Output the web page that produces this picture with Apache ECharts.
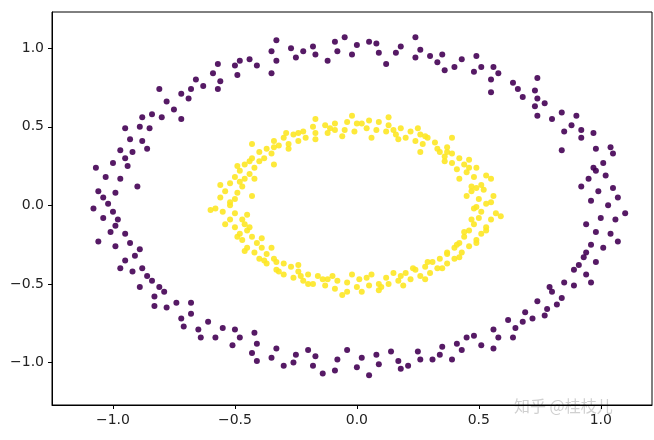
<!DOCTYPE html>
<html><head><meta charset="utf-8">
<script src="https://cdn.jsdelivr.net/npm/echarts@6/dist/echarts.min.js"></script>
<style>html,body{margin:0;background:#fff}#c{width:654px;height:440px}</style>
</head><body><div id="c"></div>
<script>
const outerRing = [
[1.03,0.00],[0.96,0.03],[0.99,0.09],[1.05,0.11],[0.95,0.17],[1.02,0.19],[1.01,0.27],[0.97,0.24],[0.98,0.36],[1.04,0.37],[0.92,0.43],[0.97,0.46],[0.88,0.51],[0.85,0.47],[0.84,0.59],[0.80,0.55],[0.77,0.65],[0.73,0.63],[0.73,0.73],[0.68,0.69],[0.64,0.78],[0.66,0.74],[0.58,0.84],[0.55,0.80],[0.51,0.88],[0.48,0.85],[0.43,0.93],[0.40,0.88],[0.35,0.96],[0.33,0.91],[0.26,0.99],[0.24,0.94],[0.18,1.01],[0.16,0.97],[0.09,0.97],[0.08,1.03],
[0.00,1.02],[-0.02,0.96],[-0.09,1.04],[-0.08,0.98],[-0.17,0.96],[-0.18,1.01],[-0.27,1.00],[-0.25,0.94],[-0.33,0.92],[-0.35,0.98],[-0.44,0.93],[-0.41,0.89],[-0.50,0.89],[-0.49,0.83],[-0.59,0.84],[-0.56,0.79],[-0.63,0.76],[-0.66,0.80],[-0.72,0.71],[-0.69,0.68],[-0.78,0.66],[-0.75,0.61],[-0.84,0.58],[-0.80,0.56],[-0.89,0.50],[-0.85,0.49],[-0.93,0.42],[-0.88,0.41],[-0.97,0.35],[-0.92,0.34],[-1.00,0.27],[-0.94,0.25],[-1.03,0.18],[-0.97,0.17],[-1.06,0.09],[-0.99,0.08],
[-1.02,0.01],[-1.08,-0.02],[-0.98,-0.09],[-1.04,-0.08],[-1.01,-0.17],[-0.95,-0.18],[-0.99,-0.26],[-0.93,-0.24],[-0.95,-0.35],[-0.91,-0.32],[-0.92,-0.42],[-0.88,-0.40],[-0.89,-0.52],[-0.84,-0.48],[-0.83,-0.58],[-0.79,-0.55],[-0.78,-0.65],[-0.74,-0.62],[-0.72,-0.72],[-0.68,-0.69],[-0.65,-0.79],[-0.61,-0.74],[-0.58,-0.84],[-0.55,-0.78],[-0.51,-0.89],[-0.48,-0.84],[-0.43,-0.94],[-0.41,-0.88],[-0.35,-0.97],[-0.33,-0.91],[-0.26,-1.00],[-0.25,-0.95],[-0.18,-1.02],[-0.17,-0.96],[-0.09,-1.05],[-0.08,-0.98],
[0.00,-1.03],[0.02,-0.97],[0.09,-1.01],[0.08,-0.95],[0.17,-0.99],[0.18,-1.04],[0.26,-0.98],[0.25,-0.93],[0.34,-0.95],[0.35,-0.90],[0.43,-0.92],[0.41,-0.88],[0.51,-0.89],[0.48,-0.83],[0.58,-0.84],[0.56,-0.79],[0.65,-0.78],[0.62,-0.73],[0.72,-0.72],[0.69,-0.68],[0.78,-0.66],[0.74,-0.61],[0.84,-0.59],[0.80,-0.55],[0.89,-0.51],[0.85,-0.49],[0.94,-0.44],[0.89,-0.41],[0.98,-0.36],[0.93,-0.33],[1.01,-0.27],[0.96,-0.25],[1.04,-0.18],[0.98,-0.17],[1.06,-0.09],[1.00,-0.08],
[1.07,0.05],[0.92,0.12],[0.98,0.22],[1.05,0.33],[0.84,0.35],[0.92,0.48],[0.90,0.57],[0.74,0.57],[0.74,0.68],[0.74,0.81],[0.55,0.72],[0.56,0.88],[0.49,0.95],[0.36,0.86],[0.30,0.95],[0.24,1.07],[0.12,0.90],[0.05,1.04],
[-0.05,1.07],[-0.12,0.92],[-0.22,0.98],[-0.33,1.05],[-0.35,0.84],[-0.48,0.92],[-0.57,0.90],[-0.57,0.74],[-0.68,0.74],[-0.81,0.74],[-0.72,0.55],[-0.88,0.56],[-0.95,0.49],[-0.86,0.36],[-0.95,0.30],[-1.07,0.24],[-0.90,0.12],[-1.04,0.05],
[-1.00,-0.04],[-0.99,-0.13],[-1.06,-0.23],[-0.89,-0.28],[-0.97,-0.40],[-0.86,-0.45],[-0.81,-0.52],[-0.83,-0.64],[-0.68,-0.62],[-0.71,-0.77],[-0.64,-0.84],[-0.50,-0.79],[-0.42,-0.81],[-0.41,-0.99],[-0.30,-1.02],[-0.20,-0.92],[-0.14,-1.07],[-0.04,-0.92],
[0.05,-1.08],[0.14,-0.93],[0.21,-1.02],[0.31,-0.98],[0.39,-0.98],[0.45,-0.84],[0.56,-0.91],[0.64,-0.84],[0.68,-0.74],[0.77,-0.70],[0.82,-0.63],[0.79,-0.52],[0.96,-0.49],[0.91,-0.38],[0.94,-0.30],[1.07,-0.23],[0.94,-0.12],[1.10,-0.05]
];
const innerRing = [
[0.53,0.01],[0.48,-0.02],[0.50,0.04],[0.56,0.06],[0.47,0.09],[0.52,0.10],[0.51,0.13],[0.47,0.12],[0.48,0.18],[0.53,0.19],[0.45,0.21],[0.49,0.24],[0.44,0.26],[0.41,0.23],[0.42,0.30],[0.39,0.27],[0.39,0.33],[0.36,0.31],[0.37,0.37],[0.34,0.34],[0.32,0.40],[0.33,0.36],[0.29,0.43],[0.27,0.39],[0.26,0.45],[0.24,0.41],[0.22,0.47],[0.20,0.43],[0.18,0.49],[0.16,0.45],[0.13,0.51],[0.12,0.47],[0.09,0.53],[0.08,0.48],[0.04,0.49],[0.05,0.54],
[0.00,0.52],[-0.01,0.47],[-0.04,0.53],[-0.05,0.48],[-0.09,0.48],[-0.09,0.52],[-0.13,0.51],[-0.12,0.46],[-0.17,0.46],[-0.18,0.50],[-0.22,0.47],[-0.21,0.43],[-0.26,0.45],[-0.24,0.41],[-0.30,0.43],[-0.28,0.39],[-0.32,0.38],[-0.34,0.41],[-0.37,0.36],[-0.35,0.33],[-0.40,0.34],[-0.38,0.30],[-0.43,0.30],[-0.40,0.28],[-0.46,0.26],[-0.42,0.24],[-0.48,0.22],[-0.44,0.20],[-0.50,0.18],[-0.46,0.17],[-0.52,0.14],[-0.47,0.12],[-0.54,0.09],[-0.49,0.08],[-0.56,0.05],[-0.50,0.04],
[-0.52,0.00],[-0.58,-0.02],[-0.50,-0.05],[-0.55,-0.04],[-0.52,-0.09],[-0.47,-0.09],[-0.50,-0.14],[-0.46,-0.12],[-0.48,-0.18],[-0.45,-0.16],[-0.47,-0.22],[-0.43,-0.20],[-0.45,-0.27],[-0.41,-0.24],[-0.42,-0.30],[-0.39,-0.27],[-0.40,-0.34],[-0.37,-0.31],[-0.37,-0.37],[-0.34,-0.34],[-0.33,-0.41],[-0.30,-0.37],[-0.30,-0.44],[-0.27,-0.39],[-0.26,-0.46],[-0.24,-0.42],[-0.22,-0.48],[-0.20,-0.44],[-0.18,-0.50],[-0.16,-0.45],[-0.13,-0.51],[-0.12,-0.47],[-0.09,-0.53],[-0.08,-0.48],[-0.04,-0.55],[-0.04,-0.49],
[0.00,-0.52],[0.01,-0.47],[0.05,-0.51],[0.04,-0.46],[0.09,-0.50],[0.09,-0.54],[0.13,-0.50],[0.12,-0.46],[0.17,-0.48],[0.18,-0.45],[0.22,-0.47],[0.20,-0.43],[0.26,-0.45],[0.24,-0.41],[0.30,-0.43],[0.28,-0.39],[0.33,-0.40],[0.31,-0.36],[0.37,-0.37],[0.34,-0.34],[0.40,-0.34],[0.37,-0.30],[0.43,-0.30],[0.40,-0.27],[0.46,-0.26],[0.42,-0.24],[0.49,-0.22],[0.44,-0.20],[0.51,-0.18],[0.46,-0.16],[0.53,-0.14],[0.48,-0.12],[0.55,-0.09],[0.50,-0.08],[0.57,-0.05],[0.51,-0.04],
[0.55,0.02],[0.45,0.06],[0.49,0.11],[0.55,0.17],[0.42,0.17],[0.46,0.24],[0.46,0.29],[0.36,0.28],[0.37,0.34],[0.39,0.43],[0.26,0.34],[0.28,0.44],[0.25,0.49],[0.17,0.42],[0.15,0.48],[0.13,0.56],[0.06,0.43],[0.02,0.52],
[-0.02,0.57],[-0.06,0.44],[-0.11,0.49],[-0.17,0.55],[-0.17,0.42],[-0.24,0.46],[-0.29,0.46],[-0.28,0.36],[-0.34,0.37],[-0.43,0.39],[-0.34,0.26],[-0.44,0.28],[-0.49,0.25],[-0.42,0.17],[-0.48,0.15],[-0.56,0.13],[-0.43,0.06],[-0.52,0.02],
[-0.60,-0.03],[-0.45,-0.06],[-0.54,-0.12],[-0.44,-0.14],[-0.49,-0.20],[-0.39,-0.21],[-0.46,-0.29],[-0.35,-0.27],[-0.38,-0.35],[-0.33,-0.36],[-0.32,-0.42],[-0.24,-0.38],[-0.23,-0.45],[-0.20,-0.50],[-0.14,-0.47],[-0.10,-0.45],[-0.06,-0.57],[-0.02,-0.44],
[0.02,-0.55],[0.06,-0.44],[0.10,-0.52],[0.15,-0.43],[0.19,-0.51],[0.23,-0.40],[0.28,-0.47],[0.29,-0.36],[0.35,-0.40],[0.37,-0.31],[0.42,-0.33],[0.41,-0.25],[0.49,-0.24],[0.44,-0.17],[0.53,-0.16],[0.47,-0.09],[0.59,-0.07],[0.49,-0.01]
];
const xTicks = [-1.0, -0.5, 0.0, 0.5, 1.0];
const yTicks = [-1.0, -0.5, 0.0, 0.5, 1.0];
const fmt = v => (v < 0 ? '\u2212' : '') + Math.abs(v).toFixed(1);
const ax = (ticks, min, max) => ({
  type: 'value', min: min, max: max,
  axisLine: {show: true, onZero: false, lineStyle: {color: '#000', width: 1}},
  axisTick: {show: true, customValues: ticks, length: 4, lineStyle: {color: '#000'}},
  axisLabel: {customValues: ticks, formatter: fmt, color: '#222', fontSize: 14, fontFamily: 'DejaVu Sans'},
  splitLine: {show: false}
});
const chart = echarts.init(document.getElementById('c'));
chart.setOption({
  animation: false,
  grid: {left: 52, right: 2, top: 12, bottom: 35},
  xAxis: Object.assign(ax(xTicks, -1.25, 1.21), {position: 'bottom'}),
  yAxis: ax(yTicks, -1.27, 1.23),
  graphic: [{type: 'text', left: 514, top: 398, style: {text: '知乎 @桂枝儿', fill: '#d0d0d0', font: '16px "Noto Sans CJK SC"'}},
            {type: 'rect', shape: {x: 52, y: 12, width: 600, height: 393}, style: {fill: 'none', stroke: '#000', lineWidth: 1}, silent: true}],
  series: [
    {type: 'scatter', data: outerRing, symbolSize: 6, itemStyle: {color: '#440154', opacity: 0.9}},
    {type: 'scatter', data: innerRing, symbolSize: 6, itemStyle: {color: '#fde725', opacity: 0.9}}
  ]
});
</script></body></html>
